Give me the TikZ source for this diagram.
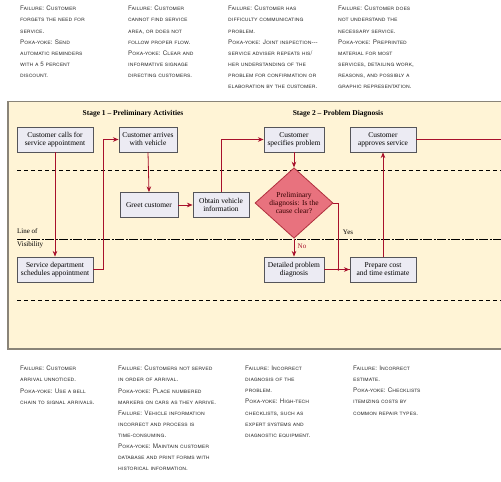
\documentclass[tikz,border=0pt]{standalone}
\usepackage{fontspec}
\setmainfont{Liberation Serif}
\newfontfamily\notefamily{TeX Gyre Heros}
\usepackage{tikz}
\usetikzlibrary{shapes.geometric,arrows.meta,positioning,calc}
\definecolor{panelfill}{HTML}{FFF4D6}
\definecolor{panelline}{HTML}{8A8478}
\definecolor{boxfill}{HTML}{ECEBF3}
\definecolor{boxline}{HTML}{55555A}
\definecolor{diafill}{HTML}{E8727E}
\definecolor{dialine}{HTML}{B0303E}
\definecolor{flowred}{HTML}{A8102C}
\definecolor{notegrey}{HTML}{3A3A3A}

\begin{document}
\begin{tikzpicture}[
    x=1bp, y=-1bp,
    font=\fontsize{7.5}{8}\selectfont,
    stepbox/.style={draw=boxline, fill=boxfill, line width=0.8pt, minimum height=25bp, align=center, inner sep=1pt},
    decision/.style={diamond, draw=dialine, fill=diafill, line width=0.8pt, minimum width=78bp, minimum height=70bp, inner sep=0pt, align=center, text=black!80!red},
    arrow/.style={-{Stealth[length=2mm, width=1.6mm]}, line width=0.8pt, flowred},
    flow/.style={line width=0.8pt, flowred},
    zone/.style={line width=0.9pt, dash pattern=on 4bp off 3bp},
    visline/.style={line width=0.9pt, dash pattern=on 9bp off 1.5bp on 2bp off 1.5bp},
    stagehead/.style={font=\fontsize{7.5}{8}\selectfont\bfseries},
    fpnote/.style={anchor=north west, align=left, inner sep=0pt, text=notegrey, font=\notefamily\scshape\fontsize{6.3}{11.1}\selectfont}
]
\useasboundingbox (0,0) rectangle (501,482);

% failure notes, top row
\node[fpnote] (ft1) at (20,6) {Failure: Customer\\forgets the need for\\service.\\Poka-yoke: Send\\automatic reminders\\with a 5 percent\\discount.};
\node[fpnote] (ft2) at (128,6) {Failure: Customer\\cannot find service\\area, or does not\\follow proper flow.\\Poka-yoke: Clear and\\informative signage\\directing customers.};
\node[fpnote] (ft3) at (228,6) {Failure: Customer has\\difficulty communicating\\problem.\\Poka-yoke: Joint inspection---\\service adviser repeats his/\\her understanding of the\\problem for confirmation or\\elaboration by the customer.};
\node[fpnote] (ft4) at (338,6) {Failure: Customer does\\not understand the\\necessary service.\\Poka-yoke: Preprinted\\material for most\\services, detailing work,\\reasons, and possibly a\\graphic representation.};

% panel
\fill[panelfill] (8,101) rectangle (501,349);
\draw[panelline, line width=0.6pt] (8,101) -- (501,101);
\draw[panelline, line width=1.6pt] (8,101) -- (8,349) -- (501,349);

\draw[zone] (17,170) -- (501,170);
\draw[visline] (17,239) -- (501,239);
\draw[zone] (17,300) -- (501,300);

\node[anchor=west, align=left, inner sep=0pt, font=\fontsize{7}{12.5}\selectfont] (vis) at (17,238.5) {Line of\\Visibility};

\node[stagehead] (st1) at (133,114) {Stage 1 -- Preliminary Activities};
\node[stagehead] (st2) at (338,114) {Stage 2 -- Problem Diagnosis};

% process steps
\node[stepbox, minimum width=76bp] (calls) at (55,139.5) {Customer calls for\\service appointment};
\node[stepbox, minimum width=58bp] (arrives) at (148,139.5) {Customer arrives\\with vehicle};
\node[stepbox, minimum width=58bp] (greet) at (149,205) {Greet customer};
\node[stepbox, minimum width=56bp] (obtain) at (221,205) {Obtain vehicle\\information};
\node[stepbox, minimum width=76bp] (schedules) at (55,269.5) {Service department\\schedules appointment};
\node[stepbox, minimum width=60bp] (specifies) at (294,139.5) {Customer\\specifies problem};
\node[stepbox, minimum width=66bp] (approves) at (383,139.5) {Customer\\approves service};
\node[decision] (clear) at (294,203) {Preliminary\\diagnosis: Is the\\cause clear?};
\node[stepbox, minimum width=60bp] (detailed) at (294,269.5) {Detailed problem\\diagnosis};
\node[stepbox, minimum width=66bp] (prepare) at (383,269.5) {Prepare cost\\and time estimate};
\coordinate (offright) at (501,139.5);

% connectors
\draw[arrow] (calls.south) -- (schedules.north);
\draw[arrow] (schedules.east) -- ++(10,0) |- (arrives.west);
\draw[arrow] (arrives.south) -- (greet.north);
\draw[arrow] (greet.east) -- (obtain.west);
\draw[arrow] (obtain.north) |- (specifies.west);
\draw[arrow] (specifies.south) -- (clear.north);
\draw[arrow] (clear.south) -- node[right, font=\fontsize{7}{8}\selectfont, pos=0.45] {No} (detailed.north);
\draw[arrow] (detailed.east) -- (prepare.west);
\draw[flow] (clear.east) -- ++(5,0) coordinate (yesbend) |- (prepare.west);
\node[font=\fontsize{7}{8}\selectfont] (yes) at (348,232) {Yes};
\fill[flowred] (yesbend |- prepare.west) circle (1.3bp);
\draw[arrow] (prepare.north) -- (approves.south);
\draw[flow] (approves.east) -- (offright);

% failure notes, bottom row
\node[fpnote] (fb1) at (20,366) {Failure: Customer\\arrival unnoticed.\\Poka-yoke: Use a bell\\chain to signal arrivals.};
\node[fpnote] (fb2) at (118,366) {Failure: Customers not served\\in order of arrival.\\Poka-yoke: Place numbered\\markers on cars as they arrive.\\Failure: Vehicle information\\incorrect and process is\\time-consuming.\\Poka-yoke: Maintain customer\\database and print forms with\\historical information.};
\node[fpnote] (fb3) at (245,366) {Failure: Incorrect\\diagnosis of the\\problem.\\Poka-yoke: High-tech\\checklists, such as\\expert systems and\\diagnostic equipment.};
\node[fpnote] (fb4) at (353,366) {Failure: Incorrect\\estimate.\\Poka-yoke: Checklists\\itemizing costs by\\common repair types.};
\end{tikzpicture}
\end{document}
